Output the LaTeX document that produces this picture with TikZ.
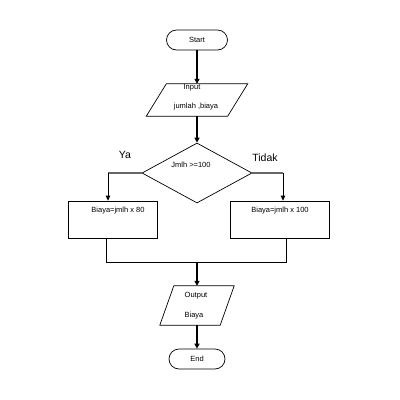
\documentclass[tikz,border=0pt]{standalone}
\usepackage{fontspec}
\setmainfont{Liberation Sans}
\usetikzlibrary{arrows.meta,shapes.geometric,calc}
\begin{document}
\begin{tikzpicture}[x=1pt,y=-1pt,
  term/.style={draw, line width=0.7pt, rounded corners=10pt, minimum height=20pt, inner sep=0pt, font=\fontsize{7.5}{9}\selectfont},
  procbox/.style={draw, line width=0.7pt, inner sep=0pt},
  ghost/.style={inner sep=0pt},
  txt/.style={font=\fontsize{7.5}{9}\selectfont, inner sep=0pt},
  big/.style={font=\fontsize{10.5}{12}\selectfont, inner sep=0pt},
  flow/.style={line width=1.4pt, -{Triangle[length=5pt,width=5pt]}},
  branchh/.style={line width=1.4pt, draw=black!60},
  branchv/.style={line width=0.9pt, -{Triangle[length=5pt,width=4.5pt]}},
  thin/.style={line width=0.7pt}]
\useasboundingbox (0,0) rectangle (400,400);
\fill[white] (0,0) rectangle (400,400);

% Start
\node[term, minimum width=61pt] (start) at (197,40) {Start};

% Input parallelogram
\node[ghost, minimum width=81pt, minimum height=32pt] (inp) at (197,100) {};
\draw[thin] ($(inp.north west)+(10,0)$) -- ($(inp.north east)+(10,0)$) -- ($(inp.south east)+(-10,0)$) -- ($(inp.south west)+(-10,0)$) -- cycle;
\node[txt] (inptxt1) at (192,88) {Input};
\node[txt] (inptxt2) at (196,107) {jumlah ,biaya};

% Decision
\node[diamond, draw, line width=0.7pt, minimum width=110pt, minimum height=60pt, inner sep=0pt] (dec) at (197,173) {};
\node[txt] (dectxt) at (191,165) {Jmlh >=100};
\node[big] (ya) at (125,155) {Ya};
\node[big] (tidak) at (265,158) {Tidak};

% Process boxes
\node[procbox, minimum width=89pt, minimum height=37pt] (boxl) at (112.5,219.5) {};
\node[txt] (boxltxt) at (118,211) {Biaya=jmlh x 80};
\node[procbox, minimum width=99pt, minimum height=37pt] (boxr) at (279.5,219.5) {};
\node[txt] (boxrtxt) at (280,211) {Biaya=jmlh x 100};

% Output parallelogram
\node[ghost, minimum width=60pt, minimum height=39pt] (out) at (197,305.5) {};
\draw[thin] ($(out.north west)+(7,0)$) -- ($(out.north east)+(7,0)$) -- ($(out.south east)+(-7,0)$) -- ($(out.south west)+(-7,0)$) -- cycle;
\node[txt] (outtxt1) at (196,296) {Output};
\node[txt] (outtxt2) at (194,316) {Biaya};

% End
\node[term, minimum width=56pt] (end) at (197,359) {End};

% Connectors
\draw[flow] (start.south) -- (inp.north);
\draw[flow] (inp.south) -- (dec.north);
\coordinate (bL) at ($(boxl.north)+(-4.5,0)$);
\coordinate (bR) at ($(boxr.north)+(3.5,0)$);
\draw[branchh] (dec.west) -- (dec.west -| bL);
\draw[branchv] (dec.west -| bL) -- (bL);
\draw[branchh] (dec.east) -- (dec.east -| bR);
\draw[branchv] (dec.east -| bR) -- (bR);
\coordinate (mL) at (106,262);
\coordinate (mR) at (286,262);
\draw[thin] ($(boxl.south)+(-6.5,0)$) -- (mL) -- (mR) -- ($(boxr.south)+(6.5,0)$);
\draw[flow] (mL -| out.north) -- (out.north);
\draw[flow] (out.south) -- (end.north);
\end{tikzpicture}
\end{document}
